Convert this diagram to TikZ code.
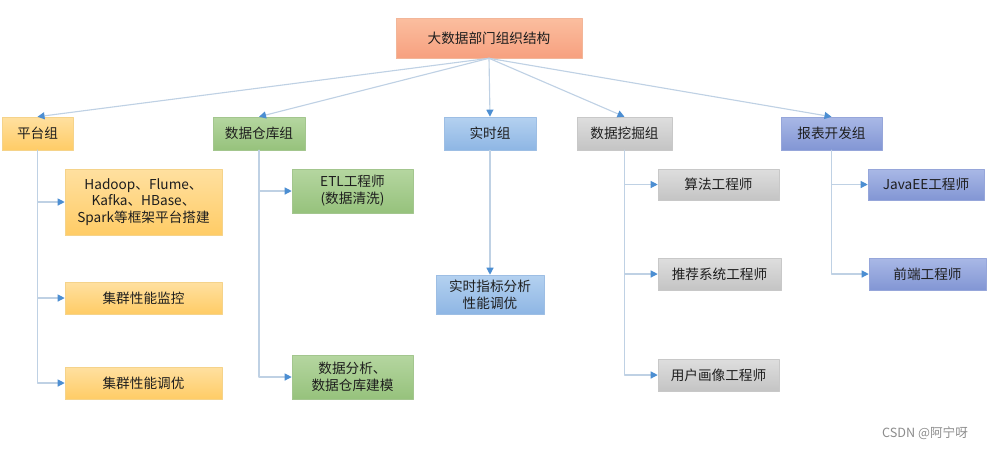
\documentclass[tikz,border=0pt]{standalone}
\usepackage{fontspec}
\setmainfont{Noto Sans CJK SC}
\usetikzlibrary{arrows.meta}
\definecolor{linecol}{HTML}{BFD1E4}
\definecolor{tipcol}{HTML}{4C8ED2}
\definecolor{txt}{HTML}{1E1E1E}
\definecolor{orangetop}{HTML}{FBBE9F}
\definecolor{orangebot}{HTML}{F7A07F}
\definecolor{orangeline}{HTML}{F2B699}
\definecolor{yellowtop}{HTML}{FFE0A0}
\definecolor{yellowbot}{HTML}{FFCC66}
\definecolor{yellowline}{HTML}{F5D38A}
\definecolor{greentop}{HTML}{B5D6A0}
\definecolor{greenbot}{HTML}{96C27C}
\definecolor{greenline}{HTML}{A3C68E}
\definecolor{bluetop}{HTML}{B4D1F0}
\definecolor{bluebot}{HTML}{8EB6E4}
\definecolor{blueline}{HTML}{9DBEE4}
\definecolor{graytop}{HTML}{DEDEDE}
\definecolor{graybot}{HTML}{C4C4C4}
\definecolor{grayline}{HTML}{C8C8C8}
\definecolor{violettop}{HTML}{A9B8E6}
\definecolor{violetbot}{HTML}{8296D4}
\definecolor{violetline}{HTML}{96A6DA}

\begin{document}
\begin{tikzpicture}[line cap=round,line join=round,x=0.025cm,y=-0.025cm,
  box/.style={draw,line width=0.4pt,inner sep=0pt,align=center,text=txt,
    font=\fontsize{9.7}{12}\selectfont},
  wh/.style 2 args={minimum width=#1*0.025cm,minimum height=#2*0.025cm},
  orangebox/.style={box,draw=orangeline,top color=orangetop,bottom color=orangebot},
  yellowbox/.style={box,draw=yellowline,top color=yellowtop,bottom color=yellowbot},
  greenbox/.style={box,draw=greenline,top color=greentop,bottom color=greenbot},
  bluebox/.style={box,draw=blueline,top color=bluetop,bottom color=bluebot},
  graybox/.style={box,draw=grayline,top color=graytop,bottom color=graybot},
  violetbox/.style={box,draw=violetline,top color=violettop,bottom color=violetbot},
  conn/.style={draw=linecol,line width=0.8pt,-{Triangle[length=5pt,width=5pt,color=tipcol]}}]
\useasboundingbox (0,0) rectangle (990,450);
% root
\node[orangebox,wh={186}{40}] (root) at (489,38) {大数据部门组织结构};
% groups
\node[yellowbox,wh={71}{33}] (pt) at (37.5,133.5) {平台组};
\node[greenbox,wh={92}{33}] (ck) at (259,133.5) {数据仓库组};
\node[bluebox,wh={92}{33}] (ss) at (490,133.5) {实时组};
\node[graybox,wh={95}{33}] (wj) at (624.5,133.5) {数据挖掘组};
\node[violetbox,wh={101}{33}] (bb) at (831.5,133.5) {报表开发组};
% members
\node[yellowbox,wh={157}{66}] (hd) at (143.5,202) {Hadoop、Flume、\\Kafka、HBase、\\Spark等框架平台搭建};
\node[yellowbox,wh={157}{32}] (jk) at (143.5,298) {集群性能监控};
\node[yellowbox,wh={157}{32}] (dy) at (143.5,383) {集群性能调优};
\node[greenbox,wh={121}{44}] (etl) at (352.5,191) {ETL工程师\\(数据清洗)};
\node[greenbox,wh={121}{44}] (fx) at (352.5,377) {数据分析、\\数据仓库建模};
\node[bluebox,wh={108}{39}] (zb) at (490,294.5) {实时指标分析\\性能调优};
\node[graybox,wh={121}{31}] (sf) at (718.5,184.5) {算法工程师};
\node[graybox,wh={123}{32}] (tj) at (719.5,274) {推荐系统工程师};
\node[graybox,wh={121}{32}] (hx) at (718.5,375) {用户画像工程师};
\node[violetbox,wh={116}{31}] (java) at (926,184.5) {JavaEE工程师};
\node[violetbox,wh={117}{32}] (qd) at (927.5,274) {前端工程师};
% connectors
\foreach \g in {pt,ck,ss,wj,bb}
  \draw[conn] (root.south) -- (\g.north);
\foreach \g/\m in {pt/hd,pt/jk,pt/dy,ck/etl,ck/fx,wj/sf,wj/tj,wj/hx,bb/java,bb/qd}
  \draw[conn] (\g.south) |- (\m.west);
\draw[conn] (ss.south) -- (zb.north);
\node[text=black!45,font=\fontsize{9}{11}\selectfont] (mark) at (925,433) {CSDN @阿宁呀};
\end{tikzpicture}
\end{document}
